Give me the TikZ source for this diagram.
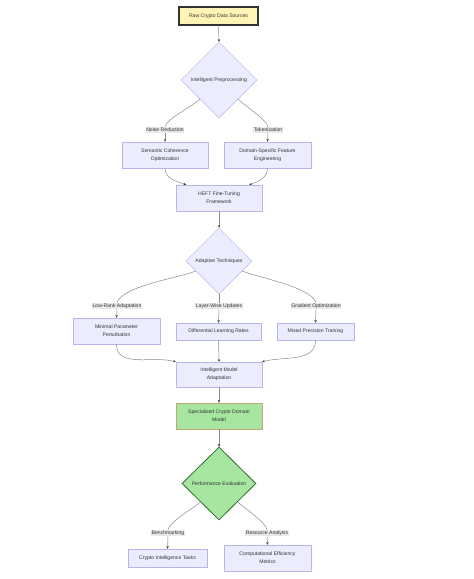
\documentclass[tikz,border=0pt]{standalone}
\usepackage{fontspec}
\setmainfont{Liberation Sans}
\usetikzlibrary{shapes.geometric,arrows.meta,calc}
\definecolor{txt}{HTML}{333333}
\definecolor{nfill}{HTML}{ECECFF}
\definecolor{nstroke}{HTML}{BDB3EC}
\definecolor{yfill}{HTML}{FFF4B5}
\definecolor{gfill}{HTML}{A6E6A0}
\definecolor{gstroke}{HTML}{C2A878}
\definecolor{dgstroke}{HTML}{2F6B2F}
\definecolor{lblfill}{HTML}{E8E8E8}
\definecolor{edge}{HTML}{8A8A8A}
\tikzset{
  every node/.style={font=\fontsize{5.1}{8}\selectfont, text=txt, align=center, inner sep=0pt},
  procbox/.style={rectangle, draw=nstroke, fill=nfill, line width=0.5pt},
  decbox/.style={diamond, draw=nstroke, fill=nfill, line width=0.5pt, aspect=1},
  startbox/.style={rectangle, draw=txt, fill=yfill, line width=1.1pt},
  goalbox/.style={rectangle, draw=gstroke, fill=gfill, line width=0.8pt},
  goaldec/.style={diamond, draw=dgstroke, fill=gfill, line width=0.8pt, aspect=1},
  elabel/.style={fill=lblfill, inner xsep=0.6pt, inner ysep=0.8pt},
  conn/.style={draw=edge, line width=0.5pt},
  arr/.style={conn, -{Stealth[length=2.6pt,width=2.4pt,color=txt]}}
}
\begin{document}
\begin{tikzpicture}[x=1pt,y=-1pt]
\useasboundingbox[fill=white] (0,0) rectangle (474,579);
% nodes
\node[startbox, minimum width=79pt, minimum height=18pt] (raw) at (218.5,16) {Raw Crypto Data Sources};
\node[decbox, minimum width=76pt, minimum height=76pt] (d1) at (219,80) {Intelligent Preprocessing};
\node[procbox, minimum width=86pt, minimum height=26pt] (sem) at (165,155) {Semantic Coherence\\Optimization};
\node[procbox, minimum width=87pt, minimum height=26pt] (dom) at (267.5,155) {Domain-Specific Feature\\Engineering};
\node[procbox, minimum width=86pt, minimum height=26pt] (heft) at (219,198) {HEFT Fine-Tuning\\Framework};
\node[decbox, minimum width=66pt, minimum height=66pt] (d2) at (219,261) {Adaptive Techniques};
\node[procbox, minimum width=87pt, minimum height=26pt] (mpp) at (116.5,331) {Minimal Parameter\\Perturbation};
\node[procbox, minimum width=85pt, minimum height=17pt] (dlr) at (218.5,331.5) {Differential Learning Rates};
\node[procbox, minimum width=77pt, minimum height=17pt] (mpt) at (315.5,331.5) {Mixed Precision Training};
\node[procbox, minimum width=86pt, minimum height=25pt] (ima) at (219,374.5) {Intelligent Model\\Adaptation};
\node[goalbox, minimum width=86pt, minimum height=26pt] (scdm) at (219,416) {Specialized Crypto Domain\\Model};
\node[goaldec, minimum width=74pt, minimum height=73pt] (d3) at (219,483.5) {Performance Evaluation};
\node[procbox, minimum width=79pt, minimum height=18pt] (cit) at (167.5,558) {Crypto Intelligence Tasks};
\node[procbox, minimum width=87pt, minimum height=26pt] (cem) at (267.5,558) {Computational Efficiency\\Metrics};
% edge labels
\node[elabel] (nr) at (165,130) {Noise Reduction};
\node[elabel] (tok) at (268,130) {Tokenization};
\node[elabel] (lra) at (117,306) {Low-Rank Adaptation};
\node[elabel] (lwu) at (219,306) {Layer-Wise Updates};
\node[elabel] (gro) at (316,306) {Gradient Optimization};
\node[elabel] (bm) at (168,533) {Benchmarking};
\node[elabel] (ra) at (267,533) {Resource Analysis};
% helper coordinates
\coordinate (d2l) at ($(d2.west)!0.3!(d2.south)$);
\coordinate (d2r) at ($(d2.east)!0.3!(d2.south)$);
\coordinate (heftl) at ($(heft.north west)!0.12!(heft.north east)$);
\coordinate (heftr) at ($(heft.north west)!0.85!(heft.north east)$);
% connectors
\draw[arr] (raw.south) -- (d1.north);
\draw[conn] (d1.south west) to[out=-133,in=80,looseness=0.5] (nr.north);
\draw[arr] (nr.south) -- (sem.north);
\draw[conn] (d1.south east) to[out=-47,in=100,looseness=0.5] (tok.north);
\draw[arr] (tok.south) -- (dom.north);
\draw[arr] (sem.south) to[out=-90,in=160] (heftl);
\draw[arr] (dom.south) to[out=-90,in=20] (heftr);
\draw[arr] (heft.south) -- (d2.north);
\draw[conn] (d2l) to[out=203,in=70,looseness=0.55] (lra.north);
\draw[arr] (lra.south) -- (mpp.north);
\draw[conn] (d2.south) -- (lwu.north);
\draw[arr] (lwu.south) -- (dlr.north);
\draw[conn] (d2r) to[out=-23,in=110,looseness=0.55] (gro.north);
\draw[arr] (gro.south) -- (mpt.north);
\draw[arr] (mpp.south) to[out=-90,in=165] (ima.north west);
\draw[arr] (dlr.south) -- (ima.north);
\draw[arr] (mpt.south) to[out=-90,in=15] (ima.north east);
\draw[arr] (ima.south) -- (scdm.north);
\draw[arr] (scdm.south) -- (d3.north);
\draw[conn] (d3.south west) to[out=-135,in=80,looseness=0.5] (bm.north);
\draw[arr] (bm.south) -- (cit.north);
\draw[conn] (d3.south east) to[out=-45,in=100,looseness=0.5] (ra.north);
\draw[arr] (ra.south) -- (cem.north);
\end{tikzpicture}
\end{document}
